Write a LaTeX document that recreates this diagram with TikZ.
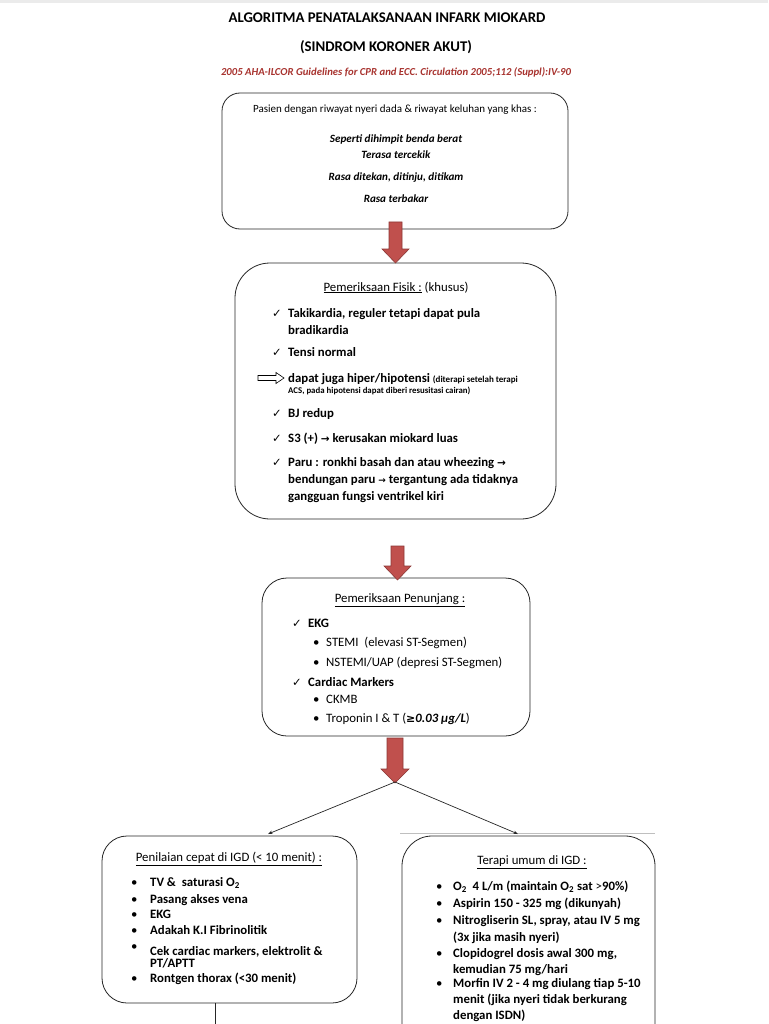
\documentclass[tikz,border=0pt]{standalone}
\usepackage{fontspec}
\setmainfont{Carlito}
\newfontfamily\dejavu{DejaVu Sans}
\usetikzlibrary{calc,arrows.meta}
\definecolor{arrowred}{HTML}{C0504D}
\definecolor{arrowedge}{HTML}{8C3836}
\definecolor{citered}{HTML}{A8332F}
\newcommand{\mychk}{{\dejavu\fontsize{11.5}{11.5}\selectfont ✓}}
\begin{document}
\begin{tikzpicture}[x=1pt,y=-1pt,
  box/.style={draw=black!85, line width=0.8pt, fill=white, inner sep=0pt},
  body/.style={anchor=base west, inner sep=0pt, font=\fontsize{12.8}{14}\selectfont\bfseries},
  bodyr/.style={anchor=base west, inner sep=0pt, font=\fontsize{12.8}{14}\selectfont},
  head/.style={anchor=base, inner sep=0pt, font=\fontsize{12.8}{14}\selectfont},
  itl/.style={anchor=base, inner sep=0pt, font=\fontsize{11.1}{13}\selectfont\bfseries\itshape},
  chkmark/.style={anchor=base west, inner sep=0pt},
  bul/.style={anchor=base west, inner sep=0pt, font=\fontsize{12.8}{14}\selectfont},
  redarrow/.style={fill=arrowred, draw=arrowedge, line width=0.6pt, line join=miter},
  conn/.style={draw=black!85, line width=0.7pt, -{Stealth[length=4.5pt,width=3.5pt]}}
]
\useasboundingbox (0,0) rectangle (768,1024);
\clip (0,0) rectangle (768,1024);
\fill[white] (0,0) rectangle (768,1024);
\fill[black!8] (0,0) rectangle (768,3);

% ---------- titles ----------
\node[anchor=base, inner sep=0pt, font=\fontsize{14.8}{17}\selectfont\bfseries] (title1) at (387,23) {ALGORITMA PENATALAKSANAAN INFARK MIOKARD};
\node[anchor=base, inner sep=0pt, font=\fontsize{14.8}{17}\selectfont\bfseries] (title2) at (386,51.5) {(SINDROM KORONER AKUT)};
\node[anchor=base, inner sep=0pt, text=citered, font=\fontsize{10.7}{12}\selectfont\bfseries\itshape] (cite) at (396,76) {2005 AHA-ILCOR Guidelines for CPR and ECC. Circulation 2005;112 (Suppl):IV-90};

% ---------- box 1 ----------
\node[box, rounded corners=18pt, minimum width=346pt, minimum height=136pt] (b1) at (395,161) {};
\node[head, font=\fontsize{11}{13}\selectfont] (b1t) at (395,113) {Pasien dengan riwayat nyeri dada \& riwayat keluhan yang khas :};
\node[itl] (b1a) at (396,143) {Seperti dihimpit benda berat};
\node[itl] (b1b) at (396,159) {Terasa tercekik};
\node[itl] (b1c) at (396,181) {Rasa ditekan, ditinju, ditikam};
\node[itl] (b1d) at (396,203) {Rasa terbakar};

% ---------- box 2 ----------
\node[box, rounded corners=35pt, minimum width=321pt, minimum height=256pt] (b2) at (395.5,391) {};
\node[head] (b2t) at (396,291) {\underline{Pemeriksaan Fisik :} (khusus)};
\node[chkmark] (c1) at (272,317.5) {\mychk};
\node[body] (b2a) at (288,317.5) {Takikardia, reguler tetapi dapat pula};
\node[body] (b2b) at (288,334.5) {bradikardia};
\node[chkmark] (c2) at (272,356.5) {\mychk};
\node[body] (b2c) at (288,356.5) {Tensi normal};
\node[body] (b2d) at (288,382) {dapat juga hiper/hipotensi {\fontsize{9}{10}\selectfont (diterapi setelah terapi}};
\node[body, font=\fontsize{8.8}{10}\selectfont\bfseries] (b2e) at (288,393.5) {ACS, pada hipotensi dapat diberi resusitasi cairan)};
\node[chkmark] (c3) at (272,417.5) {\mychk};
\node[body] (b2f) at (288,417.5) {BJ redup};
\node[chkmark] (c4) at (272,442.5) {\mychk};
\node[body] (b2g) at (288,442.5) {S3 (+) {\dejavu\fontsize{10.5}{12}\selectfont\bfseries →} kerusakan miokard luas};
\node[chkmark] (c5) at (272,466.5) {\mychk};
\node[body] (b2h) at (288,466.5) {Paru : ronkhi basah dan atau wheezing {\dejavu\fontsize{10.5}{12}\selectfont\bfseries →}};
\node[body] (b2i) at (288,483.5) {bendungan paru {\dejavu\fontsize{9}{10}\selectfont →} tergantung ada tidaknya};
\node[body] (b2j) at (288,500.5) {gangguan fungsi ventrikel kiri};
% hollow arrow
\draw[line width=0.6pt, fill=white, line join=miter] (258,375.5) -- (276,375.5) -- (276,372.5) -- (284,378) -- (276,383.5) -- (276,380.5) -- (258,380.5) -- cycle;

% ---------- box 3 ----------
\node[box, rounded corners=25pt, minimum width=268pt, minimum height=158pt] (b3) at (396,657) {};
\node[head] (b3t) at (400,602.5) {\underline{Pemeriksaan Penunjang :}};
\node[chkmark] (c6) at (292,627.5) {\mychk};
\node[body] (b3a) at (308,627.5) {EKG};
\node[bul] (d1) at (313,646.5) {•};
\node[bodyr] (b3b) at (326,646.5) {STEMI\ \ (elevasi ST-Segmen)};
\node[bul] (d2) at (313,666.5) {•};
\node[bodyr] (b3c) at (326,666.5) {NSTEMI/UAP (depresi ST-Segmen)};
\node[chkmark] (c7) at (292,686.5) {\mychk};
\node[body] (b3d) at (308,686.5) {Cardiac Markers};
\node[bul] (d3) at (313,703.5) {•};
\node[bodyr] (b3e) at (326,703.5) {CKMB};
\node[bul] (d4) at (313,722.5) {•};
\node[bodyr] (b3f) at (326,722.5) {Troponin I \& T (\textbf{\textit{{\dejavu\fontsize{11}{12}\selectfont ≥}0.03 µg/L}})};

% ---------- box 4 ----------
\node[box, rounded corners=25pt, minimum width=255pt, minimum height=167pt] (b4) at (229.5,919.5) {};
\node[head] (b4t) at (229,861.5) {\underline{Penilaian cepat di IGD (< 10 menit) :}};
\node[bul] (e1) at (131,886.5) {•};
\node[body] (b4a) at (150,886.5) {TV \&\ \ saturasi O\textsubscript{2}};
\node[bul] (e2) at (131,903.5) {•};
\node[body] (b4b) at (150,903.5) {Pasang akses vena};
\node[bul] (e3) at (131,918.5) {•};
\node[body] (b4c) at (150,918.5) {EKG};
\node[bul] (e4) at (131,934.5) {•};
\node[body] (b4d) at (150,934.5) {Adakah K.I Fibrinolitik};
\node[bul] (e5) at (131,950.5) {•};
\node[body] (b4e) at (150,955.5) {Cek cardiac markers, elektrolit \&};
\node[body] (b4f) at (150,967) {PT/APTT};
\node[bul] (e6) at (131,982.5) {•};
\node[body] (b4g) at (150,982.5) {Rontgen thorax (<30 menit)};
\coordinate (b4out) at (215,1003);
\coordinate (pageend) at (215,1024);
\draw[draw=black!85, line width=0.8pt] (b4out) -- (pageend);

% ---------- box 5 ----------
\draw[black!25, line width=0.5pt] (400,833) -- (655,833);
\node[box, rounded corners=30pt, minimum width=253pt, minimum height=328pt] (b5) at (528.5,1000) {};
\node[head] (b5t) at (532,864.5) {\underline{Terapi umum di IGD :}};
\node[bul] (f1) at (436,890.5) {•};
\node[body] (b5a) at (453,890.5) {O\textsubscript{2}\ \ 4 L/m (maintain O\textsubscript{2} sat {\mdseries >}90\%)};
\node[bul] (f2) at (436,907.5) {•};
\node[body] (b5b) at (453,907.5) {Aspirin 150 - 325 mg (dikunyah)};
\node[bul] (f3) at (436,924.5) {•};
\node[body] (b5c) at (453,924.5) {Nitrogliserin SL, spray, atau IV 5 mg};
\node[body] (b5d) at (453,941.5) {(3x jika masih nyeri)};
\node[bul] (f4) at (436,957.5) {•};
\node[body] (b5e) at (453,957.5) {Clopidogrel dosis awal 300 mg,};
\node[body] (b5f) at (453,973.5) {kemudian 75 mg/hari};
\node[bul] (f5) at (436,987.5) {•};
\node[body] (b5g) at (453,987.5) {Morfin IV 2 - 4 mg diulang tiap 5-10};
\node[body] (b5h) at (453,1003.5) {menit (jika nyeri tidak berkurang};
\node[body] (b5i) at (453,1019.5) {dengan ISDN)};

% ---------- red arrows ----------
\filldraw[redarrow] (389,222) -- (402,222) -- (402,249) -- (409,249) -- (395.5,263) -- (382,249) -- (389,249) -- cycle;
\filldraw[redarrow] (391,546) -- (404,546) -- (404,566) -- (411,566) -- (397.5,580) -- (384,566) -- (391,566) -- cycle;
\filldraw[redarrow] (387,738) -- (403,738) -- (403,769) -- (409,769) -- (395,783) -- (381,769) -- (387,769) -- cycle;

% ---------- split connectors ----------
\coordinate (split) at (395,782);
\coordinate (lend) at (268,834);
\coordinate (rend) at (518,834);
\draw[conn] (split) -- (lend);
\draw[conn] (split) -- (rend);
\end{tikzpicture}
\end{document}
